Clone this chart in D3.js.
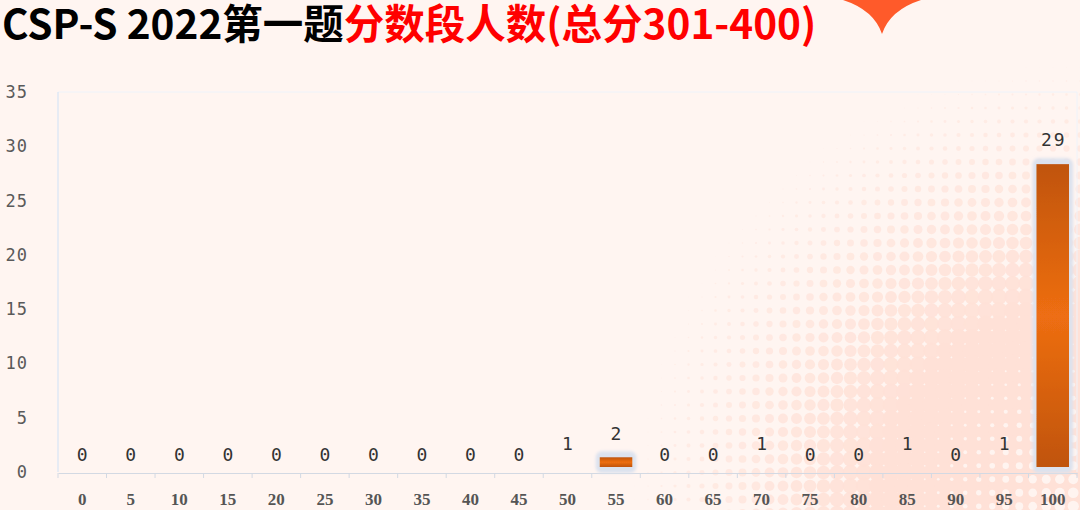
<!DOCTYPE html>
<html>
<head>
<meta charset="utf-8">
<script src="https://cdn.jsdelivr.net/npm/d3@7"></script>
<style>
  html, body { margin: 0; padding: 0; background: #fff5f1; }
  svg { display: block; }
</style>
</head>
<body>
<svg id="chart"></svg>
<script>
// score bands (total score 301-400), problem 1
const categories = ['0','5','10','15','20','25','30','35','40','45','50','55','60','65','70','75','80','85','90','95','100'];
const counts = [0,0,0,0,0,0,0,0,0,0,1,2,0,0,1,0,0,1,0,1,29];
const yTicks = [0,5,10,15,20,25,30,35];
const titleBlack = 'CSP-S 2022第一题';
const titleRed = '分数段人数(总分301-400)';

const W = 1080, H = 510;
const margin = {top: 92, right: 3, bottom: 38, left: 58};
const innerW = W - margin.left - margin.right;
const innerH = H - margin.top - margin.bottom;

const svg = d3.select('#chart').attr('width', W).attr('height', H);
const defs = svg.append('defs');

// background
svg.append('rect').attr('width', W).attr('height', H).attr('fill', '#fff5f1');

// halftone dots in the lower right corner
const step = 13.5, R = 450, cx0 = W, cy0 = H;
const dotsA = [], dotsB = [];
for (let gx = 0; gx <= W + step; gx += step) {
  for (let gy = 0; gy <= H + step; gy += step) {
    const t = 1 - Math.hypot(gx - cx0, gy - cy0) / R;
    if (t > 0) dotsA.push({x: gx, y: gy, t: t});
    const bx = gx + step / 2, by = gy + step / 2;
    const tb = 1 - Math.hypot(bx - cx0, by - cy0) / R;
    if (tb > 0.58) dotsB.push({x: bx, y: by, t: tb});
  }
}
const halftone = svg.append('g');
halftone.selectAll('circle.a')
    .data(dotsA)
  .join('circle')
    .attr('class', 'a')
    .attr('cx', d => d.x)
    .attr('cy', d => d.y)
    .attr('r', d => Math.min(d.t * 16, 10.2))
    .attr('fill', '#ffe1d7')
    .attr('fill-opacity', d => Math.min(1, 0.35 + d.t * 1.2));
halftone.selectAll('circle.b')
    .data(dotsB)
  .join('circle')
    .attr('class', 'b')
    .attr('cx', d => d.x)
    .attr('cy', d => d.y)
    .attr('r', d => Math.min((d.t - 0.58) * 14, 5.6))
    .attr('fill', '#fff4f0');

// top decoration
svg.append('path')
    .attr('d', 'M843,0 Q874,10 882,34 Q890,10 921,0 Z')
    .attr('fill', '#ff5a2a');

// title
const title = svg.append('text')
    .attr('x', 2)
    .attr('y', 39)
    .style('font-family', '"Noto Sans CJK SC", sans-serif')
    .style('font-weight', 700)
    .style('font-size', '40.5px');
title.append('tspan').attr('fill', '#000').text(titleBlack);
title.append('tspan').attr('fill', '#ff0000').text(titleRed);

const chart = svg.append('g')
    .attr('transform', `translate(${margin.left},${margin.top})`);

const xScale = d3.scaleBand()
    .domain(categories)
    .range([0, innerW])
    .padding(0);

const yScale = d3.scaleLinear()
    .domain([0, 35])
    .range([innerH, 0]);

// frame
chart.append('line')
    .attr('x1', 0).attr('x2', innerW).attr('y1', 0).attr('y2', 0)
    .attr('stroke', '#eef3fa');
chart.append('line')
    .attr('x1', innerW).attr('x2', innerW).attr('y1', 0).attr('y2', innerH)
    .attr('stroke', '#eef3fa');
chart.append('line')
    .attr('x1', 0).attr('x2', 0).attr('y1', 0).attr('y2', innerH)
    .attr('stroke', '#cfe1f6');

// y axis labels
const yAxis = d3.axisLeft(yScale)
    .tickValues(yTicks)
    .tickSize(0)
    .tickPadding(30);
const yAxisG = chart.append('g').call(yAxis);
yAxisG.select('.domain').remove();
yAxisG.selectAll('text')
    .style('font-family', '"DejaVu Sans Mono", monospace')
    .style('font-size', '17px')
    .style('letter-spacing', '1px')
    .attr('fill', '#5a5a5a');

// x axis: labels at band centres, ticks at band edges
const xAxis = d3.axisBottom(xScale)
    .tickSize(0)
    .tickPadding(20);
const xAxisG = chart.append('g')
    .attr('transform', `translate(0,${innerH + 1})`)
    .call(xAxis);
xAxisG.select('.domain').attr('stroke', '#d3d9e3');
xAxisG.selectAll('text')
    .style('font-family', '"Liberation Serif", serif')
    .style('font-weight', 700)
    .style('font-size', '17px')
    .attr('fill', '#555');
xAxisG.selectAll('line.edge')
    .data(categories.concat(['end']))
  .join('line')
    .attr('class', 'edge')
    .attr('x1', d => d === 'end' ? innerW : xScale(d))
    .attr('x2', d => d === 'end' ? innerW : xScale(d))
    .attr('y1', 0)
    .attr('y2', 5)
    .attr('stroke', '#d3d9e3');

// bar styles
const grad = defs.append('linearGradient')
    .attr('id', 'barGrad')
    .attr('x1', 0).attr('y1', 0).attr('x2', 0).attr('y2', 1);
grad.append('stop').attr('offset', '0%').attr('stop-color', '#c0540a');
grad.append('stop').attr('offset', '50%').attr('stop-color', '#ee6e12');
grad.append('stop').attr('offset', '100%').attr('stop-color', '#c0540a');

defs.append('filter').attr('id', 'glow')
    .attr('x', '-30%').attr('y', '-30%').attr('width', '160%').attr('height', '160%')
  .append('feGaussianBlur').attr('stdDeviation', 1.6);
defs.append('filter').attr('id', 'soft')
    .attr('x', '-20%').attr('y', '-20%').attr('width', '140%').attr('height', '140%')
  .append('feGaussianBlur').attr('stdDeviation', 0.7);

const data = categories.map((c, i) => ({cat: c, value: counts[i]}));
const inset = 6, padX = 8;
const barData = data.filter(d => innerH - yScale(d.value) - 2 * inset > 0);

chart.selectAll('.bar-glow')
    .data(barData)
  .join('rect')
    .attr('class', 'bar-glow')
    .attr('x', d => xScale(d.cat) + padX - 4)
    .attr('width', xScale.bandwidth() - 2 * padX + 8)
    .attr('y', d => yScale(d.value) + 1)
    .attr('height', d => innerH - yScale(d.value))
    .attr('rx', 6)
    .attr('fill', '#dce2ee')
    .attr('filter', 'url(#glow)');

chart.selectAll('.bar')
    .data(barData)
  .join('rect')
    .attr('class', 'bar')
    .attr('x', d => xScale(d.cat) + padX)
    .attr('width', xScale.bandwidth() - 2 * padX)
    .attr('y', d => yScale(d.value) + inset + 1)
    .attr('height', d => innerH - yScale(d.value) - 2 * inset)
    .attr('fill', 'url(#barGrad)')
    .attr('filter', 'url(#soft)');

// value labels
chart.selectAll('.label')
    .data(data)
  .join('text')
    .attr('class', 'label')
    .attr('x', d => xScale(d.cat) + xScale.bandwidth() / 2 + 1)
    .attr('y', d => yScale(d.value) - 17)
    .attr('dy', '0.35em')
    .attr('text-anchor', 'middle')
    .style('font-family', '"DejaVu Sans Mono", monospace')
    .style('font-size', '18px')
    .style('letter-spacing', '2px')
    .attr('fill', '#333')
    .text(d => d.value);
</script>
</body>
</html>
